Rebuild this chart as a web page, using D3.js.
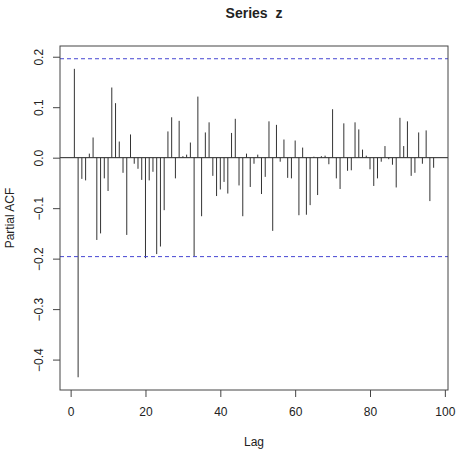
<!DOCTYPE html>
<html>
<head>
<meta charset="utf-8">
<script src="https://cdn.jsdelivr.net/npm/d3@7"></script>
<style>
  body { margin: 0; background: #fff; }
  text { font-family: "Liberation Sans", Arial, sans-serif; fill: #222; }
</style>
</head>
<body>
<svg id="chart" width="474" height="460"></svg>
<script>
// pacf values, lag 1..97
const pacf = [
  0.176, -0.435, -0.042, -0.045, 0.008, 0.040, -0.163, -0.150, -0.041, -0.066,
  0.139, 0.108, 0.032, -0.030, -0.153, 0.046, -0.012, -0.022, -0.044, -0.199,
  -0.045, -0.028, -0.191, -0.176, -0.104, 0.052, 0.080, -0.041, 0.073, 0.003,
  0.006, 0.030, -0.195, 0.121, -0.116, 0.050, 0.070, -0.036, -0.076, -0.063,
  -0.048, -0.071, 0.049, 0.077, -0.055, -0.116, 0.008, -0.058, -0.012, 0.006,
  -0.072, -0.038, 0.072, -0.145, 0.065, -0.008, 0.036, -0.040, -0.041, 0.034,
  -0.114, 0.020, -0.113, -0.094, 0.002, -0.074, 0.003, 0.004, -0.013, 0.096,
  -0.041, -0.062, 0.068, -0.026, -0.025, 0.070, 0.056, 0.016, 0.004, -0.023,
  -0.056, -0.041, -0.008, 0.023, -0.003, -0.014, -0.059, 0.079, 0.023, 0.072,
  -0.036, -0.030, 0.050, -0.012, 0.054, -0.086, -0.020
];
const lags = pacf.map((d, i) => i + 1);
const clim = 0.196;
const xTicks = [0, 20, 40, 60, 80, 100];
const yTicks = [-0.4, -0.3, -0.2, -0.1, 0.0, 0.1, 0.2];

const svg = d3.select("#chart");
const plotLeft = 60, plotRight = 448, plotTop = 46, plotBottom = 390;

// R style 4% padding on the data range
const xlo = d3.min(lags), xhi = d3.max(lags);
const xpad = (xhi - xlo) * 0.04;
const ylo = Math.min(-clim, d3.min(pacf)), yhi = Math.max(clim, d3.max(pacf));
const ypad = (yhi - ylo) * 0.04;

const x = d3.scaleLinear().domain([xlo - xpad, xhi + xpad]).range([plotLeft, plotRight]);
const y = d3.scaleLinear().domain([ylo - ypad, yhi + ypad]).range([plotBottom, plotTop]);

// title (keeps the double space)
svg.append("text")
  .attr("x", (plotLeft + plotRight) / 2).attr("y", 18)
  .attr("text-anchor", "middle")
  .style("white-space", "pre")
  .style("font-size", "14px").style("font-weight", "bold")
  .text("Series  z");

// zero line
svg.append("line")
  .attr("x1", plotLeft).attr("x2", plotRight)
  .attr("y1", y(0)).attr("y2", y(0))
  .attr("stroke", "#222").attr("stroke-width", 1);

// spikes
svg.append("g").selectAll("line")
  .data(pacf)
  .join("line")
  .attr("x1", (d, i) => x(lags[i])).attr("x2", (d, i) => x(lags[i]))
  .attr("y1", y(0)).attr("y2", d => y(d))
  .attr("stroke", "#333").attr("stroke-width", 1);

// confidence lines
svg.append("g").selectAll("line")
  .data([clim, -clim])
  .join("line")
  .attr("x1", plotLeft).attr("x2", plotRight)
  .attr("y1", d => y(d)).attr("y2", d => y(d))
  .attr("stroke", "#4646d2").attr("stroke-width", 1)
  .attr("stroke-dasharray", "4,3");

// axes
const xAxis = svg.append("g")
  .attr("transform", `translate(0,${plotBottom})`)
  .call(d3.axisBottom(x).tickValues(xTicks).tickSize(7).tickPadding(10).tickFormat(d3.format("d")));
const yAxis = svg.append("g")
  .attr("transform", `translate(${plotLeft},0)`)
  .call(d3.axisLeft(y).tickValues(yTicks).tickSize(7).tickFormat(d3.format(".1f")));

[xAxis, yAxis].forEach(a => {
  a.select(".domain").remove();
  a.selectAll(".tick line").attr("stroke", "#444");
  a.selectAll("text").style("font-size", "12px").attr("fill", "#222")
    .style("font-family", '"Liberation Sans", Arial, sans-serif');
});

// rotate y tick labels (R las=0)
yAxis.selectAll(".tick text")
  .attr("x", null).attr("dy", null)
  .attr("text-anchor", "middle")
  .attr("transform", "translate(-17,0) rotate(-90)");

// box
svg.append("rect")
  .attr("x", plotLeft).attr("y", plotTop)
  .attr("width", plotRight - plotLeft).attr("height", plotBottom - plotTop)
  .attr("fill", "none").attr("stroke", "#444").attr("stroke-width", 1);

// axis titles
svg.append("text")
  .attr("x", (plotLeft + plotRight) / 2).attr("y", 446)
  .attr("text-anchor", "middle").style("font-size", "12px")
  .text("Lag");
svg.append("text")
  .attr("transform", `translate(14,${(plotTop + plotBottom) / 2}) rotate(-90)`)
  .attr("text-anchor", "middle").style("font-size", "12px")
  .text("Partial ACF");
</script>
</body>
</html>
